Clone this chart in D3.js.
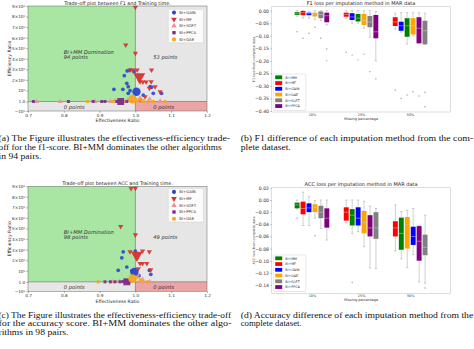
<!DOCTYPE html>
<html>
<head>
<meta charset="utf-8">
<script src="https://cdn.jsdelivr.net/npm/d3@7"></script>
<style>
html,body{margin:0;padding:0;background:#fff;}
svg{display:block;}
</style>
</head>
<body>
<svg id="fig" width="474" height="349"></svg>
<script>
// ================= DATA =================
// ---- scatter plots (a) and (c): [effectiveness ratio, efficiency ratio]
const scatterMethods = ["BI+GAIN", "BI+MF", "BI+SOFT", "BI+PPCA", "BI+DAE"];
const effRatioTicks = [0.7, 0.8, 0.9, 1.0, 1.1, 1.2];
const efficiencyTicks = [-1, 1, 10, 20, 30, 40, 50, 60, 70, 80, 90];
const efficiencyTickLabels = ["−10⁰", "1.0", "10⁰", "2×10⁰", "3×10⁰", "4×10⁰", "5×10⁰", "6×10⁰", "7×10⁰", "8×10⁰", "9×10⁰"];

const f1Gain = [[0.969,24],[0.977,28.5],[0.985,29.4],[0.996,27.8],[0.94,11.1],[0.965,11.1],[0.976,16.8],[0.98,13.6],[0.985,9.8],[0.98,7.7],[1.05,7.7],[1.073,7.7],[1.022,6.3],[1.041,13.6],[1.045,13]];
const f1MF = [[1.0,88.8],[0.973,53.1],[1.0,45.2],[1.045,29.4],[1.013,18.3],[1.021,18],[1.03,18],[1.044,18.3],[1.039,12.1],[1.055,13.6],[1.069,9.0],[1.027,4.9],[1.013,2.2],[0.985,29.4],[0.993,29.4],[1.005,29.4]];
const f1Soft = [[0.724,1],[0.79,1],[0.887,1],[0.943,1.4],[0.979,2.2],[1.013,3.9],[1.04,3.0],[1.069,1.4],[0.93,1]];
const f1PPCA = [[0.715,1],[0.813,1],[0.882,1],[0.906,1],[0.915,1],[0.948,1],[0.976,1],[0.99,1]];
const f1DAE = [[0.866,1],[0.938,1],[0.966,1],[1.004,1.6],[1.013,2.3],[1.022,1.5],[1.036,1.2],[1.05,1],[1.083,1]];
const f1Means = [[1.003,9.0],[1.011,23.1],null,[0.959,1],[0.992,3.0]];
const f1Counts = ["94 points", "53 points", "0 points", "0 points"];

const accGain = [[0.966,28],[0.962,22.3],[0.976,13.6],[0.952,10.5],[0.99,10],[1.039,10.5],[1.043,7.1],[1.0,28.7],[1.01,6]];
const accMF = [[1.0,88.1],[0.988,88],[0.959,52],[1.0,44],[0.985,28],[1.02,28.7],[1.039,28],[1.013,16.9],[1.02,16.9],[1.032,16.9],[1.008,12],[1.043,11]];
const accSoft = [[0.935,1],[0.955,1.3],[1.006,6.9],[1.02,3],[1.04,1]];
const accPPCA = [[0.915,1],[0.93,1],[0.943,1],[0.957,1],[0.965,1.2],[0.983,1]];
const accDAE = [[0.896,1],[1.004,5],[1.013,2.5],[1.02,1.5],[1.033,1],[0.978,1.3]];
const accMeans = [[0.997,9.0],[1.004,24.8],null,[0.976,1],[0.992,3.6]];
const accCounts = ["98 points", "49 points", "0 points", "0 points"];

// ---- box plots (b) and (d): [method, whiskerLow, q1, median, q3, whiskerHigh], in drawing order
const boxMethods = ["BI+MM", "BI+MF", "BI+GAIN", "BI+DAE", "BI+SOFT", "BI+PPCA"];
const missingGroups = ["10%", "25%", "50%"];

const f1Box10 = [["BI+MM",-0.022,-0.017,-0.012,-0.006,0.0],["BI+MF",-0.03,-0.018,-0.008,-0.001,0.0],["BI+GAIN",-0.03,-0.018,-0.012,-0.008,-0.002],["BI+DAE",-0.035,-0.023,-0.015,-0.008,0.0],["BI+SOFT",-0.04,-0.03,-0.015,-0.003,0.0],["BI+PPCA",-0.057,-0.046,-0.02,-0.008,0.0]];
const f1Box25 = [["BI+MF",-0.03,-0.024,-0.015,-0.008,0.0],["BI+GAIN",-0.05,-0.037,-0.025,-0.01,0.0],["BI+MM",-0.05,-0.043,-0.03,-0.013,0.0],["BI+DAE",-0.07,-0.057,-0.04,-0.013,0.0],["BI+SOFT",-0.106,-0.066,-0.045,-0.021,0.0],["BI+PPCA",-0.2,-0.11,-0.084,-0.017,-0.003]];
const f1Box50 = [["BI+MF",-0.074,-0.061,-0.045,-0.026,-0.01],["BI+GAIN",-0.085,-0.08,-0.06,-0.044,-0.008],["BI+MM",-0.133,-0.104,-0.06,-0.03,-0.008],["BI+DAE",-0.1,-0.095,-0.06,-0.03,-0.008],["BI+PPCA",-0.13,-0.13,-0.07,-0.026,-0.008],["BI+SOFT",-0.134,-0.134,-0.08,-0.04,-0.01]];
// outliers: [group index, method, value]
const f1Outliers = [[0,"BI+MM",-0.084],[0,"BI+MF",-0.11],[0,"BI+GAIN",-0.09],[0,"BI+DAE",-0.066],[0,"BI+SOFT",-0.11],[0,"BI+PPCA",-0.153],[0,"BI+PPCA",-0.2],
  [1,"BI+MF",-0.166],[1,"BI+GAIN",-0.177],[1,"BI+MM",-0.196],[1,"BI+DAE",-0.173],[1,"BI+SOFT",-0.243],[1,"BI+PPCA",-0.272],
  [2,"BI+MF",-0.316],[2,"BI+GAIN",-0.35],[2,"BI+MM",-0.336],[2,"BI+DAE",-0.323],[2,"BI+PPCA",-0.34],[2,"BI+SOFT",-0.325],[2,"BI+SOFT",-0.383]];
const f1Ticks = [0, -0.05, -0.10, -0.15, -0.20, -0.25, -0.30, -0.35, -0.40];

const accBox10 = [["BI+MM",-0.015,-0.0137,-0.008,-0.0044,0.0],["BI+MF",-0.042,-0.0236,-0.014,-0.0027,0.013],["BI+GAIN",-0.042,-0.02,-0.013,-0.0055,0.006],["BI+DAE",-0.03,-0.02,-0.012,-0.007,-0.001],["BI+SOFT",-0.047,-0.03,-0.02,-0.0094,0.0],["BI+PPCA",-0.066,-0.0456,-0.03,-0.0137,0.0]];
const accBox25 = [["BI+MF",-0.038,-0.034,-0.02,-0.012,0.0],["BI+MM",-0.055,-0.042,-0.025,-0.015,0.0],["BI+GAIN",-0.052,-0.042,-0.03,-0.012,0.0],["BI+DAE",-0.077,-0.055,-0.037,-0.018,-0.002],["BI+PPCA",-0.112,-0.06,-0.046,-0.025,-0.01],["BI+SOFT",-0.113,-0.064,-0.046,-0.02,-0.014]];
const accBox50 = [["BI+MF",-0.084,-0.06,-0.046,-0.035,-0.008],["BI+MM",-0.097,-0.082,-0.055,-0.029,-0.019],["BI+DAE",-0.111,-0.08,-0.04,-0.028,-0.017],["BI+GAIN",-0.09,-0.074,-0.06,-0.044,-0.014],["BI+PPCA",-0.135,-0.1,-0.068,-0.043,-0.042],["BI+SOFT",-0.137,-0.091,-0.078,-0.057,-0.025]];
const accOutliers = [[0,"BI+MM",-0.03],[0,"BI+DAE",-0.059],[1,"BI+MM",-0.136],[2,"BI+SOFT",-0.145]];
const accTicks = [0.02, 0, -0.02, -0.04, -0.06, -0.08, -0.10, -0.12, -0.14];

// ---- captions
const captionA = ["(a) The Figure illustrates the effectiveness-efficiency trade-", "off for the f1-score. BI+MM dominates the other algorithms", "in 94 pairs."];
const captionB = ["(b) F1 difference of each imputation method from the com-", "plete dataset."];
const captionC = ["(c) The Figure illustrates the effectiveness-efficiency trade-off", "for the accuracy score. BI+MM dominates the other algo-", "rithms in 98 pairs."];
const captionD = ["(d) Accuracy difference of each imputation method from the", "complete dataset."];

// ================= STYLE =================
const FONT = "DejaVu Sans, sans-serif";
const scatterStyle = {
  "BI+GAIN": {type: d3.symbolCircle, color: "#2b46cf", rot: 0, s: 11, S: 55},
  "BI+MF":   {type: d3.symbolTriangle, color: "#d8302c", rot: 180, s: 12, S: 60},
  "BI+SOFT": {type: d3.symbolTriangle, color: "#ee909a", rot: 0, s: 11, S: 50},
  "BI+PPCA": {type: d3.symbolSquare, color: "#7a2a87", rot: 0, s: 9, S: 48},
  "BI+DAE":  {type: d3.symbolCircle, color: "#f5a623", rot: 0, s: 11, S: 60}
};
const boxColor = {"BI+MM":"#008000","BI+MF":"#ff0000","BI+GAIN":"#0000ff","BI+DAE":"#ffa500","BI+SOFT":"#808080","BI+PPCA":"#800080"};

const svg = d3.select("#fig");

// ================= SCATTER =================
function drawScatter(o) {
  const g = svg.append("g");
  const x = d3.scaleLinear().domain([0.7, 1.2]).range([o.left, o.right]);
  const y = d3.scaleLinear().domain([-1, 1, 10, 90]).range([o.bottom, o.bottom - 9.5, o.bottom - 20.5, o.bottom - 105]);
  const top = y(90), bot = y(-1), xl = x(0.7), xr = x(1.2), xm = x(1.0), ym = y(1);
  g.append("rect").attr("x", xl).attr("y", top).attr("width", xm - xl).attr("height", ym - top).attr("fill", "#a9e6a3");
  g.append("rect").attr("x", xm).attr("y", top).attr("width", xr - xm).attr("height", ym - top).attr("fill", "#e6e6e6");
  g.append("rect").attr("x", xl).attr("y", ym).attr("width", xm - xl).attr("height", bot - ym).attr("fill", "#e6e6e6");
  g.append("rect").attr("x", xm).attr("y", ym).attr("width", xr - xm).attr("height", bot - ym).attr("fill", "#eba5a5");
  g.append("line").attr("x1", xm).attr("x2", xm).attr("y1", top).attr("y2", bot).attr("stroke", "#777").attr("stroke-width", 0.7);
  g.append("line").attr("x1", xl).attr("x2", xr).attr("y1", ym).attr("y2", ym).attr("stroke", "#777").attr("stroke-width", 0.7);

  // annotations
  const ann = g.append("g").attr("font-family", FONT).attr("font-size", 5.2).attr("font-style", "italic").attr("fill", "#333");
  ann.append("text").attr("x", x(0.8)).attr("y", y(44.6)).text("BI+MM Domination");
  ann.append("text").attr("x", x(0.8)).attr("y", y(39.8)).text(o.counts[0]);
  ann.append("text").attr("x", x(1.05)).attr("y", y(39.8)).text(o.counts[1]);
  ann.append("text").attr("x", x(0.8)).attr("y", y(-0.55)).text(o.counts[2]);
  ann.append("text").attr("x", x(1.05)).attr("y", y(-0.55)).text(o.counts[3]);

  // points
  o.series.forEach((pts, i) => {
    const st = scatterStyle[scatterMethods[i]];
    const sym = d3.symbol().type(st.type).size(st.s);
    g.append("g").selectAll("path").data(pts).join("path")
      .attr("d", sym)
      .attr("transform", d => `translate(${x(d[0])},${y(d[1])}) rotate(${st.rot})`)
      .attr("fill", st.color).attr("fill-opacity", 0.9);
  });
  o.means.forEach((m, i) => {
    if (!m) return;
    const st = scatterStyle[scatterMethods[i]];
    g.append("path").attr("d", d3.symbol().type(st.type).size(st.S)())
      .attr("transform", `translate(${x(m[0])},${y(m[1])}) rotate(${st.rot})`)
      .attr("fill", st.color).attr("fill-opacity", 0.95);
  });

  // frame
  g.append("rect").attr("x", xl).attr("y", top).attr("width", xr - xl).attr("height", bot - top)
    .attr("fill", "none").attr("stroke", "#666").attr("stroke-width", 0.5);

  // axes
  const ax = g.append("g").attr("transform", `translate(0,${bot})`)
    .call(d3.axisBottom(x).tickValues(effRatioTicks).tickFormat(d3.format(".1f")).tickSize(1.8).tickPadding(1));
  const ay = g.append("g").attr("transform", `translate(${xl},0)`)
    .call(d3.axisLeft(y).tickValues(efficiencyTicks).tickFormat((d, i) => efficiencyTickLabels[i]).tickSize(1.8).tickPadding(1));
  [ax, ay].forEach(a => {
    a.select(".domain").remove();
    a.selectAll("line").attr("stroke", "#444").attr("stroke-width", 0.4);
    a.selectAll("text").attr("font-family", FONT).attr("font-size", 4.2).attr("fill", "#333");
  });

  // legend
  const lg = g.append("g");
  lg.append("rect").attr("x", o.legX).attr("y", o.legY).attr("width", 35).attr("height", 33.5).attr("rx", 1)
    .attr("fill", "#fff").attr("fill-opacity", 0.85).attr("stroke", "#d0d0d0").attr("stroke-width", 0.5);
  scatterMethods.forEach((m, i) => {
    const st = scatterStyle[m];
    const yy = o.legY + 3.3 + i * 6.7;
    lg.append("path").attr("d", d3.symbol().type(st.type).size(st.s + 2)())
      .attr("transform", `translate(${o.legX + 5.7},${yy}) rotate(${st.rot})`).attr("fill", st.color);
    lg.append("text").attr("x", o.legX + 11).attr("y", yy + 1.3).attr("font-family", FONT).attr("font-size", 3.8).attr("fill", "#333").text(m);
  });

  // titles
  g.append("text").attr("x", (xl + xr) / 2).attr("y", top - 1.4).attr("text-anchor", "middle")
    .attr("font-family", FONT).attr("font-size", 4.8).attr("fill", "#222").text(o.title);
  g.append("text").attr("x", (xl + xr) / 2).attr("y", bot + 11.3).attr("text-anchor", "middle")
    .attr("font-family", FONT).attr("font-size", 4.6).attr("fill", "#222").text("Effectiveness Ratio");
  g.append("text").attr("transform", `translate(${o.ylabX},${(top + bot) / 2}) rotate(-90)`).attr("text-anchor", "middle")
    .attr("font-family", FONT).attr("font-size", 4.6).attr("fill", "#222").text("Efficiency Ratio");
}

drawScatter({left: 28, right: 207, bottom: 111, legX: 168.3, legY: 9.3, ylabX: 10.8,
  title: "Trade-off plot between F1 and Training time.",
  series: [f1Gain, f1MF, f1Soft, f1PPCA, f1DAE], means: f1Means, counts: f1Counts});
drawScatter({left: 28, right: 207, bottom: 291.3, legX: 168.3, legY: 188.6, ylabX: 10.8,
  title: "Trade-off plot between ACC and Training time.",
  series: [accGain, accMF, accSoft, accPPCA, accDAE], means: accMeans, counts: accCounts});

// ================= BOX PLOTS =================
function drawBoxes(o) {
  const g = svg.append("g");
  const x = d3.scaleLinear().domain([0.18, 3.82]).range([o.left, o.right]);
  const y = d3.scaleLinear().domain(o.yDomain).range(o.yRange);
  const step = 0.121, bw = x(0.1) - x(0);

  g.append("rect").attr("x", o.left).attr("y", o.top).attr("width", o.right - o.left).attr("height", o.bottom - o.top)
    .attr("fill", "#fff").attr("stroke", "#c8c8c8").attr("stroke-width", 0.6);

  o.groups.forEach((grp, gi) => {
    grp.forEach((b, i) => {
      const cx = x(gi + 1 + (i - 2.5) * step);
      const [m, lo, q1, med, q3, hi] = b;
      const wg = g.append("g").attr("stroke", "#a0a0a0").attr("stroke-width", 0.5);
      wg.append("line").attr("x1", cx).attr("x2", cx).attr("y1", y(lo)).attr("y2", y(q1));
      wg.append("line").attr("x1", cx).attr("x2", cx).attr("y1", y(q3)).attr("y2", y(hi));
      wg.append("line").attr("x1", cx - bw / 4).attr("x2", cx + bw / 4).attr("y1", y(lo)).attr("y2", y(lo));
      wg.append("line").attr("x1", cx - bw / 4).attr("x2", cx + bw / 4).attr("y1", y(hi)).attr("y2", y(hi));
      g.append("rect").attr("x", cx - bw / 2).attr("y", y(q3)).attr("width", bw).attr("height", Math.max(0.6, y(q1) - y(q3)))
        .attr("fill", boxColor[m]);
      g.append("line").attr("x1", cx - bw / 2).attr("x2", cx + bw / 2).attr("y1", y(med)).attr("y2", y(med))
        .attr("stroke", "#cfcfcf").attr("stroke-width", 0.5);
    });
  });
  o.outliers.forEach(([gi, m, v]) => {
    const i = o.groups[gi].findIndex(b => b[0] === m);
    g.append("circle").attr("cx", x(gi + 1 + (i - 2.5) * step)).attr("cy", y(v)).attr("r", 0.7).attr("fill", "#9a9a9a");
  });

  const ay = g.append("g").attr("transform", `translate(${o.left},0)`)
    .call(d3.axisLeft(y).tickValues(o.ticks).tickFormat(d3.format(".2f")).tickSize(1.5).tickPadding(1.2));
  const ax = g.append("g").attr("transform", `translate(0,${o.bottom})`)
    .call(d3.axisBottom(x).tickValues([1, 2, 3]).tickFormat((d, i) => missingGroups[i]).tickSize(0).tickPadding(1.4));
  [ax, ay].forEach(a => { a.select(".domain").remove(); a.selectAll("line").attr("stroke", "#666").attr("stroke-width", 0.4); });
  ay.selectAll("text").attr("font-family", FONT).attr("font-size", 4.6).attr("fill", "#333");
  ax.selectAll("text").attr("font-family", FONT).attr("font-size", 3.4).attr("fill", "#333");

  g.append("text").attr("x", (o.left + o.right) / 2).attr("y", o.top - 2).attr("text-anchor", "middle")
    .attr("font-family", FONT).attr("font-size", 5).attr("fill", "#222").text(o.title);
  g.append("text").attr("x", (o.left + o.right) / 2).attr("y", o.bottom + 7.6).attr("text-anchor", "middle")
    .attr("font-family", FONT).attr("font-size", 3.5).attr("fill", "#333").text("Missing percentage");
  g.append("text").attr("transform", `translate(255,${(o.top + o.bottom) / 2}) rotate(-90)`).attr("text-anchor", "middle")
    .attr("font-family", FONT).attr("font-size", 3.3).attr("fill", "#333").text(o.ylabel);

  // legend
  const lg = g.append("g");
  lg.append("rect").attr("x", o.left + 1.6).attr("y", o.legY).attr("width", 32.5).attr("height", 36.5).attr("rx", 0.8)
    .attr("fill", "#fff").attr("stroke", "#d0d0d0").attr("stroke-width", 0.5);
  boxMethods.forEach((m, i) => {
    const yy = o.legY + 3.3 + i * 5.75;
    lg.append("rect").attr("x", o.left + 3.5).attr("y", yy - 1.9).attr("width", 7).attr("height", 3.8).attr("fill", boxColor[m]);
    lg.append("text").attr("x", o.left + 13.5).attr("y", yy + 1.2).attr("font-family", FONT).attr("font-size", 3.3).attr("fill", "#333").text(m);
  });
}

drawBoxes({left: 271.7, right: 450.3, top: 6.7, bottom: 112, yDomain: [-0.4, 0], yRange: [111, 10.7],
  ticks: f1Ticks, groups: [f1Box10, f1Box25, f1Box50], outliers: f1Outliers, legY: 74,
  title: "F1 loss per imputation method in MAR data", ylabel: "F1 loss from complete data"});
drawBoxes({left: 271.7, right: 450.5, top: 187.7, bottom: 293.3, yDomain: [-0.14, 0], yRange: [285, 200],
  ticks: accTicks, groups: [accBox10, accBox25, accBox50], outliers: accOutliers, legY: 255,
  title: "ACC loss per imputation method in MAR data", ylabel: "ACC loss from complete data"});

// ================= CAPTIONS =================
function caption(lines, x0, y0, widths) {
  const t = svg.append("g").attr("font-family", "Liberation Serif, serif").attr("font-size", 8.6).attr("fill", "#111");
  lines.forEach((l, i) => {
    t.append("text").attr("x", x0).attr("y", y0 + i * 8.6).attr("textLength", widths[i]).attr("lengthAdjust", "spacingAndGlyphs").text(l);
  });
}
caption(captionA, -1.5, 141.3, [231.5, 223, 43]);
caption(captionB, 240.7, 141.3, [232.5, 50]);
caption(captionC, -1.5, 317.5, [232.5, 233, 70]);
caption(captionD, 240.7, 317.5, [232.5, 61]);
</script>
</body>
</html>
